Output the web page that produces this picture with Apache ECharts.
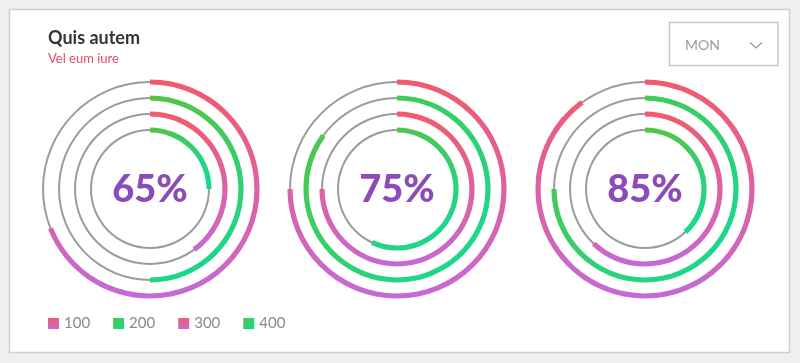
<!DOCTYPE html>
<html><head><meta charset="utf-8">
<script src="https://cdn.jsdelivr.net/npm/echarts@6/dist/echarts.min.js"></script>
<style>html,body{margin:0;padding:0;background:#efefef;}#c{width:800px;height:363px;}</style>
</head><body><div id="c"></div>
<script>
// ---- data ----
const seriesNames = ['100', '200', '300', '400'];
const centerLabels = ['65%', '75%', '85%'];
const donut1 = [69, 50, 40, 25];
const donut2 = [75, 85, 75, 57];
const donut3 = [90, 75, 62, 38];
const donutValues = [donut1, donut2, donut3];
const totalValue = 100;
const titleText = 'Quis autem';
const subtitleText = 'Vel eum iure';
const dropdownText = 'MON';

// ---- layout / style ----
const centers = [[150, 189], [397, 189], [645, 189]];
const radii = [107, 91, 75, 59];
const FONT = 'Lato, "Open Sans", sans-serif';
const pinkGrad = () => new echarts.graphic.LinearGradient(0, 0, 0, 1, [
  { offset: 0, color: '#f35a6b' }, { offset: 1, color: '#c46ad6' }]);
const greenGrad = () => new echarts.graphic.LinearGradient(0, 0, 1, 1, [
  { offset: 0, color: '#55c444' }, { offset: 1, color: '#12da98' }]);
const ringColors = [pinkGrad, greenGrad, pinkGrad, greenGrad];

const series = [];
donutValues.forEach((vals, d) => {
  vals.forEach((v, r) => {
    const rad = radii[r];
    series.push({
      type: 'pie', silent: true, z: 1,
      center: centers[d], radius: [rad - 1, rad + 1],
      label: { show: false }, labelLine: { show: false },
      itemStyle: { color: '#9b9b9b' },
      data: [{ name: 'track', value: totalValue }]
    });
    series.push({
      type: 'pie', silent: true, z: 2,
      center: centers[d], radius: [rad - 2.6, rad + 2.6],
      startAngle: 90, clockwise: true,
      label: { show: false }, labelLine: { show: false },
      data: [
        { name: seriesNames[r], value: v, itemStyle: { color: ringColors[r]() } },
        { name: 'rest', value: totalValue - v, itemStyle: { color: 'rgba(0,0,0,0)' } }
      ]
    });
  });
});

const graphics = [
  { type: 'rect', z: -10, shape: { x: 9.5, y: 9.5, width: 780, height: 343 },
    style: { fill: '#ffffff', stroke: '#cfcfcf', lineWidth: 1.5 } },
  { type: 'text', x: 48, y: 38, style: { text: titleText, font: 'bold 18px ' + FONT, fill: '#333333', verticalAlign: 'middle' } },
  { type: 'text', x: 48, y: 58.5, style: { text: subtitleText, font: '13px ' + FONT, fill: '#e8486a', verticalAlign: 'middle' } },
  { type: 'rect', shape: { x: 669.5, y: 22.5, width: 108.5, height: 43 },
    style: { fill: '#ffffff', stroke: '#c8c8c8', lineWidth: 1.5 } },
  { type: 'text', x: 685, y: 45.5, style: { text: dropdownText, font: '14px ' + FONT, fill: '#9a9a9a', verticalAlign: 'middle' } },
  { type: 'polyline', shape: { points: [[750, 42.5], [756, 48], [762, 42.5]] },
    style: { stroke: '#9a9a9a', lineWidth: 1.2, fill: null } }
];
centerLabels.forEach((t, i) => {
  graphics.push({ type: 'text', x: centers[i][0], y: centers[i][1] + 1, z: 10,
    style: { text: t, font: '900 38px ' + FONT, fill: '#8c4bb7', align: 'center', verticalAlign: 'middle' } });
});

const chart = echarts.init(document.getElementById('c'), null, { renderer: 'canvas' });
chart.setOption({
  animation: false,
  legend: {
    data: seriesNames, left: 43, top: 311, icon: 'rect',
    itemWidth: 11, itemHeight: 11, itemGap: 23,
    textStyle: { color: '#8a8a8a', fontSize: 15, fontFamily: FONT }
  },
  graphic: graphics,
  series: series
});
</script>
</body></html>
